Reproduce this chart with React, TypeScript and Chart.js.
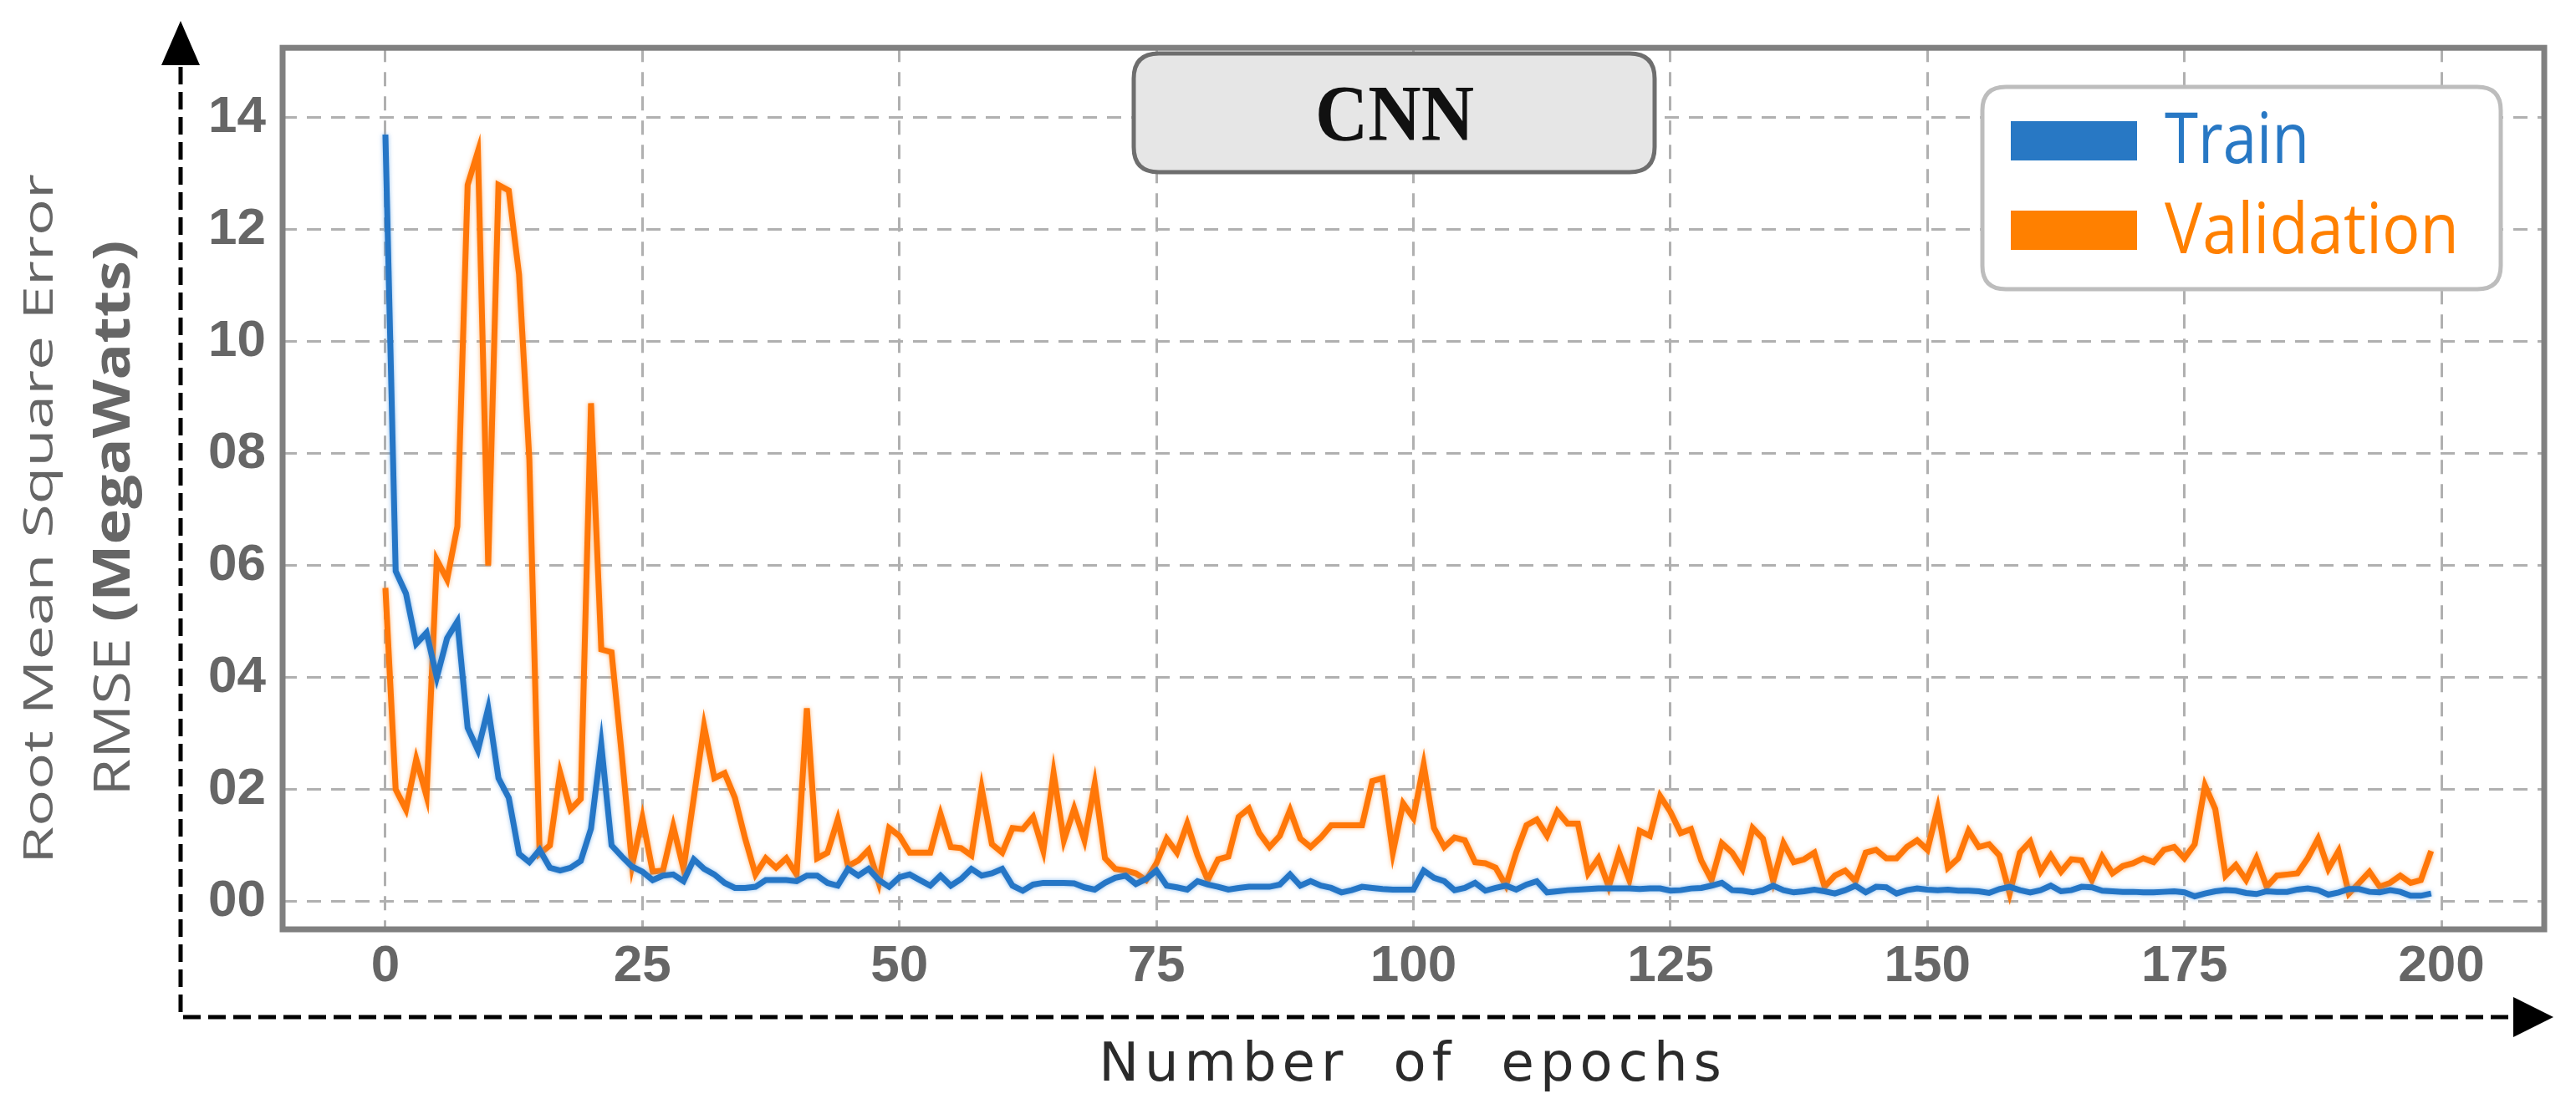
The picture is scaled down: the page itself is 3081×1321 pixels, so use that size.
import React, { useEffect, useRef } from "react";
import { Chart, registerables } from "chart.js";

Chart.register(...registerables);

// ---------- data ----------
const epochs = Array.from({ length: 200 }, (_, i) => i);

const trainRMSE = [
  13.7, 5.9, 5.5, 4.6, 4.8, 4.0, 4.7, 5.0, 3.1, 2.7,
  3.45, 2.2, 1.85, 0.85, 0.7, 0.92, 0.6, 0.55, 0.6, 0.72,
  1.3, 2.8, 1.0, 0.8, 0.62, 0.53, 0.38, 0.46, 0.48, 0.36,
  0.75, 0.58, 0.48, 0.33, 0.24, 0.24, 0.26, 0.38, 0.38, 0.38,
  0.36, 0.46, 0.46, 0.33, 0.28, 0.58, 0.46, 0.58, 0.38, 0.26,
  0.43, 0.48, 0.38, 0.28, 0.46, 0.28, 0.4, 0.58, 0.46, 0.5,
  0.58, 0.28, 0.19, 0.3, 0.33, 0.33, 0.33, 0.32, 0.25, 0.21,
  0.33, 0.42, 0.46, 0.31, 0.4, 0.55, 0.28, 0.25, 0.21, 0.36,
  0.3, 0.26, 0.21, 0.24, 0.26, 0.26, 0.26, 0.3, 0.48, 0.28,
  0.36, 0.28, 0.24, 0.16, 0.2, 0.26, 0.24, 0.22, 0.21, 0.21,
  0.21, 0.55, 0.42, 0.36, 0.2, 0.24, 0.33, 0.19, 0.24, 0.28,
  0.21, 0.3, 0.36, 0.16, 0.18, 0.2, 0.21, 0.22, 0.23, 0.23,
  0.23, 0.23, 0.22, 0.23, 0.23, 0.19, 0.2, 0.23, 0.24, 0.28,
  0.33, 0.2, 0.19, 0.16, 0.2, 0.28, 0.2, 0.16, 0.18, 0.21,
  0.18, 0.14, 0.2, 0.28, 0.16, 0.26, 0.25, 0.14, 0.2, 0.23,
  0.21, 0.2, 0.21, 0.19, 0.19, 0.18, 0.15, 0.22, 0.26, 0.2,
  0.16, 0.2, 0.28, 0.18, 0.2, 0.26, 0.25, 0.19, 0.18, 0.17,
  0.17, 0.16, 0.16, 0.17, 0.18, 0.16, 0.09, 0.14, 0.18, 0.2,
  0.19, 0.15, 0.13, 0.18, 0.17, 0.17, 0.21, 0.23, 0.2, 0.12,
  0.16, 0.22, 0.22, 0.17, 0.16, 0.2, 0.17, 0.1, 0.1, 0.14,
];

const validationRMSE = [
  5.6, 2.0, 1.64, 2.54, 1.88, 6.1, 5.75, 6.7, 12.8, 13.4,
  6.0, 12.8, 12.7, 11.2, 7.9, 0.85, 1.0, 2.3, 1.64, 1.83,
  8.9, 4.5, 4.45, 2.6, 0.64, 1.49, 0.53, 0.55, 1.34, 0.58,
  1.85, 3.13, 2.2, 2.29, 1.85, 1.12, 0.48, 0.77, 0.6, 0.77,
  0.48, 3.45, 0.77, 0.87, 1.46, 0.63, 0.73, 0.92, 0.33, 1.31,
  1.17, 0.87, 0.87, 0.87, 1.56, 0.97, 0.95, 0.82, 2.02, 1.02,
  0.87, 1.31, 1.29, 1.51, 0.9, 2.29, 1.09, 1.66, 1.09, 2.1,
  0.77, 0.58, 0.55, 0.5, 0.38, 0.68, 1.12, 0.87, 1.39, 0.82,
  0.38, 0.75, 0.8, 1.51, 1.66, 1.22, 0.97, 1.17, 1.63, 1.12,
  0.97, 1.14, 1.36, 1.36, 1.36, 1.36, 2.15, 2.2, 0.87, 1.75,
  1.49, 2.44, 1.31, 0.97, 1.14, 1.09, 0.7, 0.68, 0.6, 0.28,
  0.87, 1.36, 1.46, 1.17, 1.61, 1.39, 1.39, 0.5, 0.77, 0.26,
  0.87, 0.38, 1.26, 1.17, 1.88, 1.6, 1.22, 1.29, 0.73, 0.38,
  1.04, 0.87, 0.58, 1.31, 1.12, 0.36, 1.04, 0.7, 0.75, 0.87,
  0.26, 0.46, 0.55, 0.36, 0.87, 0.92, 0.77, 0.77, 0.97, 1.09,
  0.92, 1.66, 0.6, 0.77, 1.26, 0.97, 1.02, 0.82, 0.14, 0.87,
  1.07, 0.53, 0.82, 0.53, 0.75, 0.73, 0.38, 0.8, 0.5, 0.63,
  0.68, 0.77, 0.7, 0.92, 0.97, 0.77, 1.02, 2.07, 1.65, 0.46,
  0.65, 0.38, 0.77, 0.26, 0.46, 0.48, 0.5, 0.77, 1.12, 0.58,
  0.9, 0.14, 0.33, 0.53, 0.26, 0.33, 0.46, 0.33, 0.38, 0.9,
];

const seriesLabels = ["Train", "Validation"];
const xTicks = [0, 25, 50, 75, 100, 125, 150, 175, 200];
const yTicks = [0, 2, 4, 6, 8, 10, 12, 14];
const yTickLabels = ["00", "02", "04", "06", "08", "10", "12", "14"];
const chartTitle = "CNN";
const xTitle = "Number of epochs";
const yTitleLine1 = "Root Mean Square Error";
const yTitleLine2a = "RMSE ";
const yTitleLine2b = "(MegaWatts)";

// ---------- style ----------
const W = 3081;
const H = 1321;
const COLORS = ["#2576c6", "#ff7708"];
const GLOW = ["rgba(90,160,230,0.7)", "rgba(255,150,60,0.7)"];
const SWATCH = ["#2878c4", "#ff8000"];

function roundRect(ctx: CanvasRenderingContext2D, x: number, y: number, w: number, h: number, r: number) {
  ctx.beginPath();
  ctx.moveTo(x + r, y);
  ctx.lineTo(x + w - r, y);
  ctx.quadraticCurveTo(x + w, y, x + w, y + r);
  ctx.lineTo(x + w, y + h - r);
  ctx.quadraticCurveTo(x + w, y + h, x + w - r, y + h);
  ctx.lineTo(x + r, y + h);
  ctx.quadraticCurveTo(x, y + h, x, y + h - r);
  ctx.lineTo(x, y + r);
  ctx.quadraticCurveTo(x, y, x + r, y);
  ctx.closePath();
}

function fitText(ctx: CanvasRenderingContext2D, text: string, x: number, y: number, width: number, align: string) {
  const w = ctx.measureText(text).width;
  const s = width / w;
  ctx.save();
  ctx.translate(x, y);
  ctx.scale(s, 1);
  ctx.textAlign = align as CanvasTextAlign;
  ctx.fillText(text, 0, 0);
  ctx.restore();
}

const glowPlugin = {
  id: "glow",
  beforeDatasetDraw(chart: any, args: any) {
    const ctx: CanvasRenderingContext2D = chart.ctx;
    ctx.save();
    ctx.shadowColor = GLOW[args.index] || "transparent";
    ctx.shadowBlur = 5;
  },
  afterDatasetDraw(chart: any) {
    chart.ctx.restore();
  },
};

const decorPlugin = {
  id: "decor",
  afterDatasetsDraw(chart: any) {
    const ctx: CanvasRenderingContext2D = chart.ctx;
    const a = chart.chartArea;
    ctx.save();

    // plot frame
    ctx.strokeStyle = "#808080";
    ctx.lineWidth = 7;
    ctx.setLineDash([]);
    ctx.strokeRect(a.left, a.top, a.right - a.left, a.bottom - a.top);

    // dashed arrow axes
    ctx.strokeStyle = "#000";
    ctx.fillStyle = "#000";
    ctx.lineWidth = 5;
    ctx.setLineDash([21, 9]);
    ctx.beginPath();
    ctx.moveTo(216, 80);
    ctx.lineTo(216, 1217);
    ctx.lineTo(3008, 1217);
    ctx.stroke();
    ctx.setLineDash([]);
    ctx.beginPath();
    ctx.moveTo(216, 25);
    ctx.lineTo(239, 78);
    ctx.lineTo(193, 78);
    ctx.closePath();
    ctx.fill();
    ctx.beginPath();
    ctx.moveTo(3054, 1217);
    ctx.lineTo(3006, 1193);
    ctx.lineTo(3006, 1241);
    ctx.closePath();
    ctx.fill();

    // title box
    roundRect(ctx, 1356, 64, 623, 142, 30);
    ctx.fillStyle = "#e6e6e6";
    ctx.fill();
    ctx.lineWidth = 5;
    ctx.strokeStyle = "#6e6e6e";
    ctx.stroke();
    ctx.fillStyle = "#111";
    ctx.font = "bold 95px 'Liberation Serif', 'Times New Roman', serif";
    ctx.textBaseline = "alphabetic";
    fitText(ctx, chartTitle, 1668, 168, 190, "center");

    // legend box
    roundRect(ctx, 2371, 104, 620, 242, 28);
    ctx.fillStyle = "#ffffff";
    ctx.fill();
    ctx.lineWidth = 5;
    ctx.strokeStyle = "#bdbdbd";
    ctx.stroke();
    const ds = chart.data.datasets;
    const rows = [
      { sy: 145, by: 195, w: 173 },
      { sy: 252, by: 303, w: 352 },
    ];
    ctx.font = "84px 'Open Sans', 'Noto Sans', sans-serif";
    ds.forEach((d: any, i: number) => {
      const r = rows[i];
      ctx.fillStyle = SWATCH[i];
      ctx.fillRect(2405, r.sy, 151, 47);
      ctx.fillStyle = SWATCH[i];
      fitText(ctx, d.label, 2589, r.by, r.w, "left");
    });

    // x title
    ctx.fillStyle = "#2b2b2b";
    ctx.font = "64px 'DejaVu Sans', sans-serif";
    (ctx as any).letterSpacing = "7px";
    (ctx as any).wordSpacing = "26px";
    ctx.textAlign = "center";
    ctx.fillText(xTitle, 1690, 1293);
    (ctx as any).letterSpacing = "0px";
    (ctx as any).wordSpacing = "0px";

    // y title line 1
    ctx.fillStyle = "#666666";
    ctx.save();
    ctx.translate(63, 621);
    ctx.rotate(-Math.PI / 2);
    ctx.font = "50px 'Open Sans', 'Noto Sans', sans-serif";
    fitText(ctx, yTitleLine1, 0, 0, 826, "center");
    ctx.restore();

    // y title line 2 (mixed weight)
    ctx.save();
    ctx.translate(155, 620);
    ctx.rotate(-Math.PI / 2);
    const fN = "60px 'Open Sans', 'Noto Sans', sans-serif";
    const fB = "bold 60px 'Open Sans', 'Noto Sans', sans-serif";
    ctx.font = fN;
    const w1 = ctx.measureText(yTitleLine2a).width;
    ctx.font = fB;
    const w2 = ctx.measureText(yTitleLine2b).width;
    const s = 665 / (w1 + w2);
    ctx.scale(s, 1);
    ctx.textAlign = "left";
    const start = -(w1 + w2) / 2;
    ctx.font = fN;
    ctx.fillText(yTitleLine2a, start, 0);
    ctx.font = fB;
    ctx.fillText(yTitleLine2b, start + w1, 0);
    ctx.restore();

    ctx.restore();
  },
};

export default function App() {
  const ref = useRef<HTMLCanvasElement | null>(null);

  useEffect(() => {
    document.body.style.margin = "0";
    const canvas = ref.current;
    if (!canvas) return;
    const tickFont = { family: "'Liberation Sans', Arial, sans-serif", size: 62, weight: "bold" as const };
    const chart = new Chart(canvas, {
      type: "line",
      data: {
        datasets: [
          {
            label: seriesLabels[0],
            data: epochs.map((e, i) => ({ x: e, y: trainRMSE[i] })),
            borderColor: COLORS[0],
            backgroundColor: COLORS[0],
            borderWidth: 7,
            pointRadius: 0,
            tension: 0,
            fill: false,
          },
          {
            label: seriesLabels[1],
            data: epochs.map((e, i) => ({ x: e, y: validationRMSE[i] })),
            borderColor: COLORS[1],
            backgroundColor: COLORS[1],
            borderWidth: 7,
            pointRadius: 0,
            tension: 0,
            fill: false,
          },
        ],
      },
      options: {
        animation: false,
        responsive: false,
        devicePixelRatio: 1,
        layout: { padding: { left: 0, top: 31, right: 38, bottom: 0 } },
        plugins: {
          legend: { display: false },
          title: { display: false },
          tooltip: { enabled: false },
        },
        scales: {
          x: {
            type: "linear",
            min: -10,
            max: 210,
            afterFit: (s: any) => {
              s.height = 209;
            },
            afterBuildTicks: (s: any) => {
              s.ticks = xTicks.map((v) => ({ value: v }));
            },
            grid: { color: "#b0b0b0", lineWidth: 3, drawTicks: false },
            border: { display: false, dash: [17, 12] },
            ticks: {
              font: tickFont,
              color: "#666666",
              padding: 8,
              maxRotation: 0,
              autoSkip: false,
              callback: (v: any) => String(v),
            },
          },
          y: {
            type: "linear",
            min: -0.5,
            max: 15.25,
            afterFit: (s: any) => {
              s.width = 338;
            },
            afterBuildTicks: (s: any) => {
              s.ticks = yTicks.map((v) => ({ value: v }));
            },
            grid: { color: "#b0b0b0", lineWidth: 3, drawTicks: false },
            border: { display: false, dash: [17, 12] },
            ticks: {
              font: tickFont,
              color: "#666666",
              padding: 20,
              autoSkip: false,
              callback: (v: any) => {
                const idx = yTicks.indexOf(Number(v));
                return idx >= 0 ? yTickLabels[idx] : "";
              },
            },
          },
        },
      },
      plugins: [glowPlugin, decorPlugin],
    });
    return () => chart.destroy();
  }, []);

  return (
    <div style={{ width: W, height: H, background: "#fff" }}>
      <canvas ref={ref} width={W} height={H} style={{ display: "block", width: W, height: H }} />
    </div>
  );
}
